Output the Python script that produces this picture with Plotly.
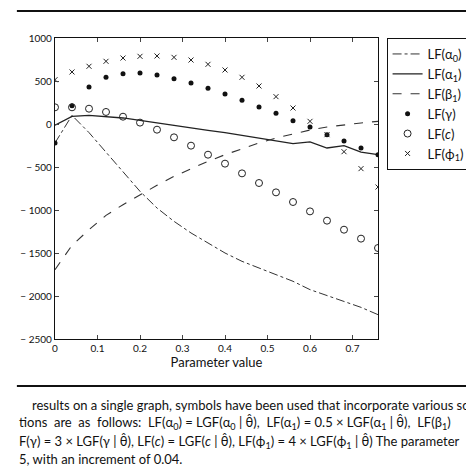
import plotly.graph_objects as go

x = [round(0.04*i, 2) for i in range(20)]
lf_alpha0 = [-220, 100, -100, -330, -560, -783, -977, -1132, -1267, -1384, -1500, -1597, -1674, -1752, -1829, -1926, -1992, -2062, -2132, -2217]
lf_alpha1 = [-15, 89, 101, 89, 70, 43, 12, -15, -47, -74, -101, -132, -163, -194, -229, -209, -279, -252, -326, -357]
lf_beta1 = [-1694, -1411, -1229, -1062, -938, -822, -713, -609, -519, -434, -357, -287, -221, -163, -116, -70, -35, -8, 12, 31]
lf_gamma = [-220, 213, 430, 543, 585, 593, 570, 527, 477, 415, 349, 275, 198, 124, 39, -35, -124, -198, -279, -357]
lf_c = [194, 194, 178, 140, 85, 16, -66, -155, -252, -357, -461, -574, -686, -795, -907, -1016, -1124, -1229, -1333, -1442]
lf_phi1 = [515, 605, 671, 729, 767, 787, 791, 775, 744, 694, 628, 543, 442, 318, 186, 31, -124, -322, -519, -733]

yticks = [1000, 500, 0, -500, -1000, -1500, -2000, -2500]
yticklabels = ["1000", "500", "0", "− 500", "− 1000", "− 1500", "− 2000", "− 2500"]
xticks = [0, 0.1, 0.2, 0.3, 0.4, 0.5, 0.6, 0.7]

fig = go.Figure()
fig.add_trace(go.Scatter(x=x, y=lf_alpha0, mode="lines", name="LF(α<sub>0</sub>)",
                         line=dict(color="#333", width=1, dash="dashdot")))
fig.add_trace(go.Scatter(x=x, y=lf_alpha1, mode="lines", name="LF(α<sub>1</sub>)",
                         line=dict(color="#222", width=1.3)))
fig.add_trace(go.Scatter(x=x, y=lf_beta1, mode="lines", name="LF(β<sub>1</sub>)",
                         line=dict(color="#333", width=1.1, dash="dash")))
fig.add_trace(go.Scatter(x=x, y=lf_gamma, mode="markers", name="LF(γ)",
                         marker=dict(symbol="circle", size=5, color="#111")))
fig.add_trace(go.Scatter(x=x, y=lf_c, mode="markers", name="LF(<i>c</i>)",
                         marker=dict(symbol="circle-open", size=7, color="#222", line=dict(width=1))))
fig.add_trace(go.Scatter(x=x, y=lf_phi1, mode="markers", name="LF(ϕ<sub>1</sub>)",
                         marker=dict(symbol="x-thin-open", size=5, color="#222", line=dict(width=1))))

caption = [
    (14, 397, "results on a single graph, symbols have been used that incorporate various scaling"),
    (0, 415, "tions  are  as  follows:  LF(α<sub>0</sub>) = LGF(α<sub>0</sub> | θ̂),  LF(α<sub>1</sub>) = 0.5 × LGF(α<sub>1</sub> | θ̂),  LF(β<sub>1</sub>)"),
    (0, 434, "F(γ) = 3 × LGF(γ | θ̂), LF(<i>c</i>) = LGF(<i>c</i> | θ̂), LF(ϕ<sub>1</sub>) = 4 × LGF(ϕ<sub>1</sub> | θ̂) The parameter"),
    (0, 451, "5, with an increment of 0.04."),
]
L, R, T, B = 40, 379, 30, 331
W, H = 474, 474
ann = []
for px, py, t in caption:
    ann.append(dict(text=t, xref="paper", yref="paper", x=(px - L) / (R - L), y=(B - py) / (B - T),
                    xanchor="left", yanchor="middle", showarrow=False,
                    font=dict(family="Lato", size=13, color="#111")))

shapes = [
    dict(type="line", xref="paper", yref="paper", x0=-L/(R-L), x1=(W-L)/(R-L),
         y0=(B-3)/(B-T), y1=(B-3)/(B-T), line=dict(color="#111", width=2)),
    dict(type="line", xref="paper", yref="paper", x0=-L/(R-L), x1=(W-L)/(R-L),
         y0=(B-378)/(B-T), y1=(B-378)/(B-T), line=dict(color="#111", width=2)),
]

fig.update_layout(
    width=W, height=H, margin=dict(l=L, r=W-R, t=T, b=H-B),
    paper_bgcolor="white", plot_bgcolor="white",
    font=dict(family="Lato", size=10, color="#111"),
    showlegend=True,
    legend=dict(x=(388-L)/(R-L), y=1, xanchor="left", yanchor="top", bordercolor="#111",
                borderwidth=1, font=dict(size=13), tracegroupgap=0, itemwidth=30),
    xaxis=dict(range=[0, 0.76], tickvals=xticks, ticks="inside", ticklen=4, showgrid=False,
               zeroline=False, showline=True, mirror="ticks", linecolor="#111", linewidth=1.2,
               title=dict(text="Parameter value", font=dict(size=13), standoff=4)),
    yaxis=dict(range=[-2500, 1000], tickvals=yticks, ticktext=yticklabels, ticks="inside", ticklen=4,
               showgrid=False, zeroline=False, showline=True, mirror="ticks", linecolor="#111",
               linewidth=1.2),
    annotations=ann, shapes=shapes,
)
fig.write_html("out.html")
